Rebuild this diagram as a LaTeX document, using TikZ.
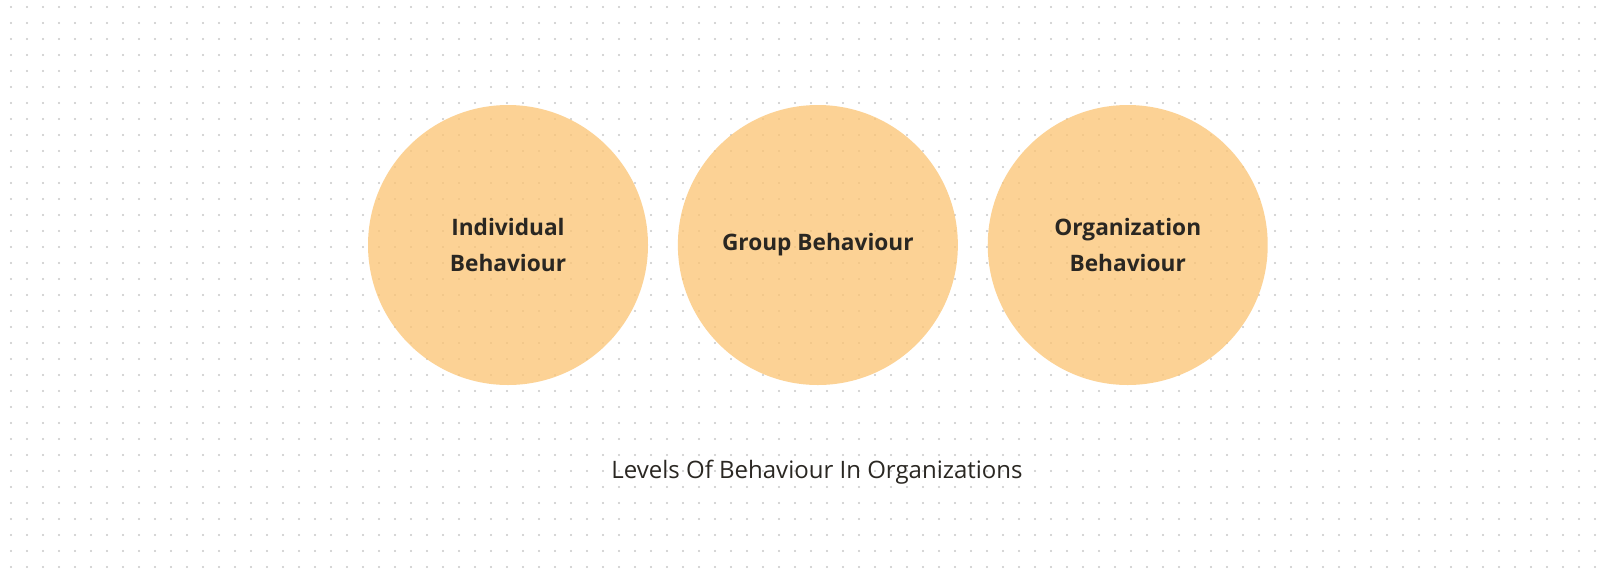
\documentclass[tikz,border=0pt]{standalone}
\usepackage{fontspec}
\setmainfont{Open Sans}
\usepackage{xcolor}
\usetikzlibrary{positioning,backgrounds}
\definecolor{porange}{HTML}{FCC472}
\definecolor{pdot}{HTML}{C8C8C8}
\definecolor{pdark}{HTML}{2A2722}

\begin{document}
\begin{tikzpicture}[x=0.75pt,y=-0.75pt,
    every node/.style={align=center,text=pdark},
    level/.style={circle,fill=porange,fill opacity=0.75,text opacity=1,
      minimum size=210pt,inner sep=0pt,
      font=\fontsize{17}{26.5}\selectfont\bfseries}]
  \useasboundingbox (0,0) rectangle (1600,569);
  \node[level] (ind) at (508,245) {Individual\\Behaviour};
  \node[level,right=22pt of ind] (grp) {Group Behaviour};
  \node[level,right=22pt of grp] (org) {Organization\\Behaviour};
  \node[font=\fontsize{18}{22}\selectfont] (title) at (817,472)
    {Levels Of Behaviour In Organizations};
  % dotted paper
  \begin{scope}[on background layer]
    \fill[white] (0,0) rectangle (1600,569);
    \foreach \gx in {0,...,99}
      \foreach \gy in {0,...,35}
        \fill[pdot] (11+16*\gx,7+16*\gy) circle (0.8pt);
  \end{scope}
\end{tikzpicture}
\end{document}
